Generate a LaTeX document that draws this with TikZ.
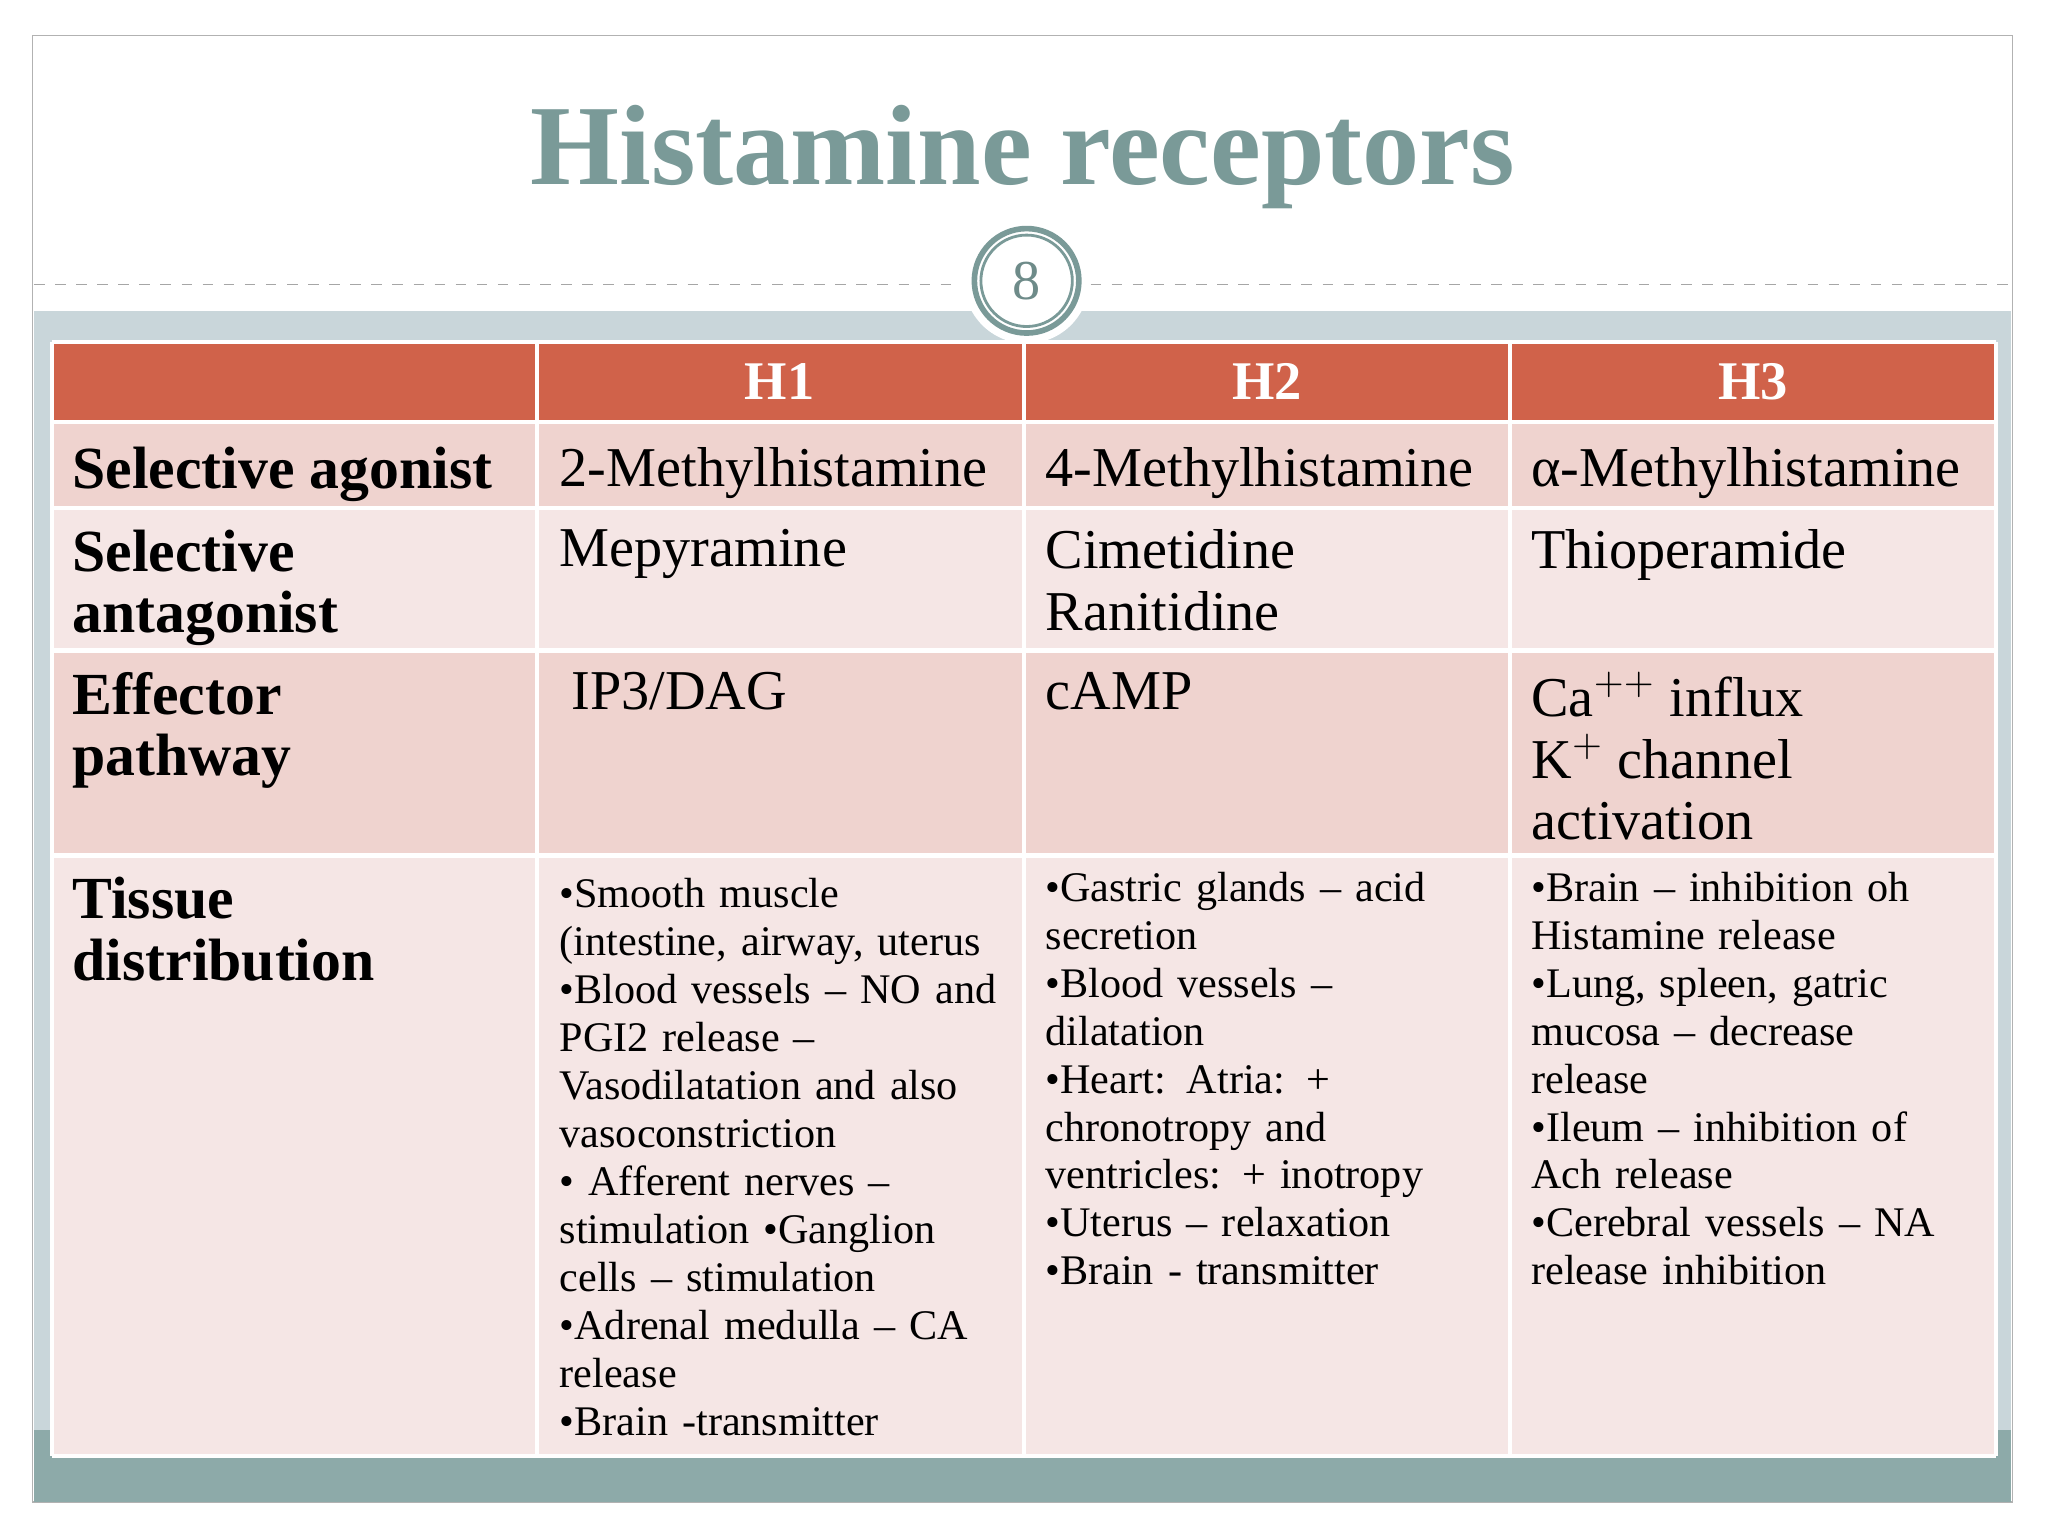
\documentclass[tikz,border=0pt]{standalone}
\usepackage{fontspec}
\setmainfont{Liberation Serif}
\definecolor{teal}{HTML}{7A9A98}
\definecolor{bar}{HTML}{8DAAA9}
\definecolor{bg}{HTML}{C9D6DA}
\definecolor{hdr}{HTML}{D0624A}
\definecolor{rowA}{HTML}{EFD3CF}
\definecolor{rowB}{HTML}{F5E6E5}
\begin{document}
\begin{tikzpicture}[x=0.013061cm,y=-0.013061cm,
  big/.style={anchor=north west,align=left,inner sep=0pt,font=\fontsize{16}{17.5}\selectfont},
  bigb/.style={big,font=\fontsize{17}{17.5}\selectfont\bfseries},
  small/.style={anchor=north west,align=left,inner sep=0pt,text width=128pt,font=\fontsize{12}{13.65}\selectfont},
  head/.style={anchor=base,inner sep=0pt,text=white,font=\fontsize{15.5}{17.5}\selectfont\bfseries},
  cell/.style={draw=white,line width=1.2pt}]
\useasboundingbox (0,0) rectangle (1568,1176);
\fill[white] (0,0) rectangle (1568,1176);
\draw[gray!60,fill=white] (25,27) rectangle (1541,1150);
\fill[bg] (26,238) rectangle (1540,1095);
\fill[bar] (26,1095) rectangle (1540,1150);
\draw[gray!70,dashed,line width=0.4pt] (26,218) -- (735,218) (835,218) -- (1540,218);
\fill[white] (786,215) circle (48);
\draw[teal,line width=1.6pt] (786,215) circle (40);
\draw[teal,line width=0.8pt] (786,215) circle (35);
\node[text=teal!90!black,font=\fontsize{16}{18}\selectfont] (num) at (786,215) {8};
\node[text=teal,font=\fontsize{32.5}{40}\selectfont\bfseries] (title) at (783,120) {Histamine receptors};
% table
\fill[hdr] (40,262) rectangle (1528,323);
\fill[rowA] (40,323) rectangle (1528,389);
\fill[rowB] (40,389) rectangle (1528,498);
\fill[rowA] (40,498) rectangle (1528,655);
\fill[rowB] (40,655) rectangle (1528,1115);
\foreach \y in {262,323,389,498,655,1115} \draw[cell] (40,\y) -- (1528,\y);
\foreach \x in {40,411,784,1156,1528} \draw[cell] (\x,262) -- (\x,1115);
\node[head] (h1) at (597,306) {H1};
\node[head] (h2) at (970,306) {H2};
\node[head] (h3) at (1342,306) {H3};
\node[bigb] (r1) at (55,342) {Selective agonist};
\node[big] (a1) at (428,342) {2-Methylhistamine};
\node[big] (a2) at (800,342) {4-Methylhistamine};
\node[big] (a3) at (1172,342) {α-Methylhistamine};
\node[bigb] (r2) at (55,405) {Selective\\antagonist};
\node[big] (b1) at (428,405) {Mepyramine};
\node[big] (b2) at (800,405) {Cimetidine\\Ranitidine};
\node[big] (b3) at (1172,405) {Thioperamide};
\node[bigb] (r3) at (55,514) {Effector\\pathway};
\node[big] (c1) at (437,514) {IP3/DAG};
\node[big] (c2) at (800,514) {cAMP};
\node[big] (c3) at (1172,514) {Ca$^{++}$ influx\\K$^{+}$ channel\\activation};
\node[bigb] (r4) at (55,671) {Tissue\\distribution};
\node[small] (d1) at (428,672) {•Smooth muscle\\(intestine, airway, uterus\\•Blood vessels – NO and\\PGI2 release –\\Vasodilatation and also\\vasoconstriction\\• Afferent nerves –\\stimulation •Ganglion\\cells – stimulation\\•Adrenal medulla – CA\\release\\•Brain -transmitter};
\node[small] (d2) at (800,667) {•Gastric glands – acid\\secretion\\•Blood vessels –\\dilatation\\•Heart: Atria: +\\chronotropy and\\ventricles: + inotropy\\•Uterus – relaxation\\•Brain - transmitter};
\node[small] (d3) at (1172,667) {•Brain – inhibition oh\\Histamine release\\•Lung, spleen, gatric\\mucosa – decrease\\release\\•Ileum – inhibition of\\Ach release\\•Cerebral vessels – NA\\release inhibition};
\end{tikzpicture}
\end{document}
